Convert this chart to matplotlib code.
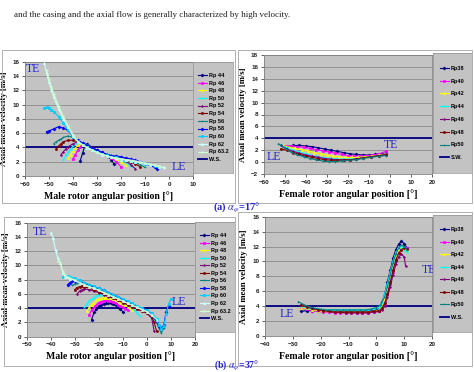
import matplotlib
matplotlib.use("Agg")
import matplotlib.pyplot as plt
from matplotlib.patches import Rectangle

plt.rcParams['mathtext.fontset'] = 'stix'

# ---------------- DATA ----------------
# (a) alpha = 17 deg, male rotor
male17_labels = ["Rp 44", "Rp 46", "Rp 48", "Rp 50", "Rp 52", "Rp 54", "Rp 56",
                 "Rp 58", "Rp 60", "Rp 62", "Rp 63.2"]
male17_x = [
    [-37, -36, -35, -34, -32, -30, -28, -26, -24, -23],
    [-40, -39, -38, -37, -36, -34, -32, -30, -28, -26, -24, -22, -20],
    [-42, -41, -40, -39, -38, -36, -34, -32, -30, -28, -26, -24, -22, -20, -18],
    [-44, -43, -42, -41, -40, -38, -36, -34, -32, -30, -28, -26, -24, -22, -20, -18, -16],
    [-45, -44, -43, -42, -40, -38, -36, -34, -32, -30, -28, -26, -24, -22, -20, -18, -16, -14],
    [-47, -46, -45, -44, -42, -40, -38, -36, -34, -32, -30, -28, -26, -24, -22, -20, -18, -16, -14, -12],
    [-48, -47, -46, -45, -44, -42, -40, -38, -36, -34, -32, -30, -28, -26, -24, -22, -20, -18, -16, -14, -12, -10],
    [-51, -50, -48, -46, -44, -42, -40, -38, -36, -34, -32, -30, -28, -26, -24, -22, -20, -18, -16, -14, -12, -10, -8, -6, -5],
    [-52, -51, -50, -49, -48, -46, -44, -42, -40, -38, -36, -34, -32, -30, -28, -26, -24, -22, -20, -18, -16, -14, -12, -10, -8, -6, -4],
    [-52, -51, -50, -49, -48, -46, -44, -42, -40, -38, -36, -34, -32, -30, -28, -26, -24, -22, -20, -18, -16, -14, -12, -10, -8, -6, -4, -2],
    [-51, -50, -49, -48, -46, -44, -42, -40, -38, -36, -34, -32, -30, -28, -26, -24, -22, -20, -18, -16, -14, -12, -10, -8, -6, -4, -2],
]
male17_y = [
    [2.1, 3.2, 4.3, 4.5, 4.0, 3.6, 3.2, 2.8, 2.3, 1.7],
    [2.4, 3.0, 3.6, 4.1, 4.4, 4.2, 3.8, 3.5, 3.2, 2.9, 2.5, 2.0, 1.3],
    [2.5, 3.0, 3.5, 3.9, 4.3, 4.5, 4.2, 3.9, 3.5, 3.2, 2.9, 2.7, 2.4, 2.0, 1.5],
    [2.3, 2.9, 3.4, 3.8, 4.2, 4.6, 4.6, 4.3, 3.9, 3.6, 3.3, 3.0, 2.8, 2.6, 2.3, 1.9, 1.4],
    [3.0, 3.4, 3.8, 4.1, 4.5, 4.8, 4.6, 4.3, 4.0, 3.6, 3.3, 3.0, 2.8, 2.6, 2.4, 2.1, 1.6, 1.0],
    [3.8, 4.2, 4.5, 4.8, 5.0, 5.0, 4.8, 4.5, 4.2, 3.9, 3.6, 3.3, 3.0, 2.8, 2.6, 2.4, 2.2, 2.0, 1.7, 1.3],
    [4.5, 4.8, 5.0, 5.2, 5.4, 5.6, 5.4, 5.0, 4.6, 4.3, 3.9, 3.6, 3.3, 3.1, 2.9, 2.7, 2.5, 2.3, 2.1, 1.9, 1.6, 1.2],
    [6.2, 6.3, 6.6, 6.9, 6.7, 6.4, 5.5, 5.0, 4.6, 4.2, 3.9, 3.6, 3.3, 3.0, 2.8, 2.8, 2.7, 2.5, 2.4, 2.2, 2.0, 1.8, 1.5, 1.2, 1.0],
    [9.5, 9.6, 9.5, 9.3, 9.0, 8.3, 7.4, 6.4, 5.5, 4.8, 4.4, 4.0, 3.7, 3.4, 3.1, 2.9, 2.7, 2.6, 2.4, 2.2, 2.1, 2.0, 1.9, 1.7, 1.6, 1.4, 1.2],
    [15.8, 14.4, 13.2, 12.0, 11.0, 9.4, 8.0, 6.8, 5.6, 4.8, 4.3, 3.9, 3.6, 3.3, 3.0, 2.8, 2.6, 2.5, 2.3, 2.2, 2.1, 2.0, 1.9, 1.8, 1.6, 1.5, 1.3, 1.2],
    [14.8, 13.6, 12.5, 11.5, 9.8, 8.3, 7.0, 5.8, 4.9, 4.4, 4.0, 3.6, 3.3, 3.1, 2.8, 2.6, 2.5, 2.4, 2.3, 2.2, 2.1, 1.9, 1.8, 1.7, 1.5, 1.4, 1.1],
]

# (a) alpha = 17 deg, female rotor
female17_labels = ["Rp38", "Rp40", "Rp42", "Rp44", "Rp46", "Rp48", "Rp50"]
female17_x = [
    [-49, -46, -43, -40, -37, -34, -31, -28, -25, -22, -19, -16, -13, -10, -7, -4, -2],
    [-50, -47, -44, -41, -38, -35, -32, -29, -26, -23, -20, -17, -14, -11, -8, -5, -2],
    [-51, -48, -45, -42, -39, -36, -33, -30, -27, -24, -21, -18, -15, -12, -9, -5, -2],
    [-52, -49, -46, -43, -40, -37, -34, -31, -28, -25, -22, -19, -16, -13, -9, -5, -2],
    [-52, -49, -46, -43, -40, -37, -34, -31, -28, -25, -22, -19, -16, -13, -9, -5, -2],
    [-52, -49, -46, -43, -40, -37, -34, -31, -28, -25, -22, -19, -16, -13, -9, -5, -2],
    [-53, -50, -47, -44, -41, -38, -35, -32, -29, -26, -23, -20, -16, -13, -9, -5, -2],
]
female17_y = [
    [2.6, 2.8, 2.8, 2.7, 2.6, 2.4, 2.2, 2.0, 1.8, 1.6, 1.4, 1.3, 1.2, 1.2, 1.3, 1.4, 1.5],
    [2.7, 2.7, 2.6, 2.5, 2.3, 2.1, 1.9, 1.7, 1.5, 1.3, 1.1, 1.0, 1.0, 1.1, 1.2, 1.4, 1.8],
    [2.8, 2.5, 2.3, 2.1, 1.9, 1.6, 1.4, 1.2, 1.0, 0.9, 0.8, 0.8, 0.8, 0.9, 1.0, 1.2, 1.4],
    [2.9, 2.4, 2.0, 1.7, 1.4, 1.1, 0.9, 0.7, 0.6, 0.5, 0.5, 0.5, 0.6, 0.7, 0.9, 1.1, 1.3],
    [2.8, 2.2, 1.8, 1.5, 1.2, 1.0, 0.8, 0.6, 0.5, 0.4, 0.4, 0.4, 0.5, 0.7, 0.9, 1.1, 1.3],
    [2.2, 2.0, 1.6, 1.3, 1.0, 0.8, 0.6, 0.4, 0.3, 0.3, 0.3, 0.4, 0.5, 0.7, 0.9, 1.1, 1.2],
    [3.1, 2.3, 1.7, 1.2, 0.9, 0.6, 0.4, 0.2, 0.1, 0.1, 0.2, 0.3, 0.4, 0.6, 0.8, 1.0, 1.1],
]

# (b) alpha = 37 deg, male rotor
male37_labels = male17_labels
male37_x = [
    [-23, -22, -21, -20, -19, -18, -17, -16, -15, -14, -13, -12, -11, -10],
    [-24, -23, -22, -21, -20, -19, -18, -17, -16, -15, -14, -13, -12, -11, -10, -9, -8],
    [-25, -24, -23, -22, -21, -20, -19, -18, -17, -16, -15, -14, -13, -12, -11, -10, -9, -8, -7, -6],
    [-26, -25, -24, -23, -22, -21, -20, -19, -18, -17, -16, -15, -14, -13, -12, -11, -10, -9, -8, -7, -6, -5, -4, -3],
    [-29, -28, -27, -26, -24, -22, -20, -18, -16, -14, -12, -10, -8, -6, -4, -2, 0, 2, 3],
    [-30, -29, -28, -27, -26, -24, -22, -20, -18, -16, -14, -12, -10, -8, -6, -4, -2, 0, 2, 3, 4],
    [-31, -30, -29, -28, -26, -24, -22, -20, -18, -16, -14, -12, -10, -8, -6, -4, -2, 0, 2, 4, 5, 6, 7],
    [-33, -32, -31, -30, -28, -26, -24, -22, -20, -18, -16, -14, -12, -10, -8, -6, -4, -2, 0, 2, 4, 5, 6, 7, 8, 9],
    [-35, -34, -33, -32, -30, -28, -26, -24, -22, -20, -18, -16, -14, -12, -10, -8, -6, -4, -2, 0, 2, 4, 5, 6, 7, 8, 9, 10],
    [-40, -39, -38, -37, -36, -35, -34, -32, -30, -28, -26, -24, -22, -20, -18, -16, -14, -12, -10, -8, -6, -4, -2, 0, 2, 4],
    [-37, -36, -35, -34, -33, -32, -30, -28, -26, -24, -22, -20, -18, -16, -14, -12, -10, -8, -6, -4, -2, 0, 2],
]
male37_y = [
    [2.4, 3.4, 3.9, 4.3, 4.5, 4.6, 4.7, 4.7, 4.7, 4.6, 4.4, 4.2, 3.9, 3.5],
    [3.1, 3.7, 4.2, 4.5, 4.8, 4.9, 5.0, 5.1, 5.0, 5.0, 4.9, 4.7, 4.5, 4.3, 4.1, 3.9, 3.7],
    [3.6, 4.1, 4.5, 4.8, 5.1, 5.3, 5.4, 5.5, 5.5, 5.5, 5.4, 5.3, 5.2, 5.0, 4.8, 4.6, 4.4, 4.2, 4.0, 3.8],
    [4.1, 4.6, 5.0, 5.3, 5.5, 5.7, 5.8, 5.9, 5.9, 5.9, 5.8, 5.7, 5.6, 5.4, 5.3, 5.1, 4.9, 4.7, 4.5, 4.3, 4.0, 3.7, 3.3, 2.9],
    [6.0, 6.4, 6.6, 6.7, 6.6, 6.4, 6.2, 5.9, 5.6, 5.4, 5.1, 4.8, 4.5, 4.2, 3.9, 3.6, 3.3, 2.6, 0.8],
    [6.6, 6.9, 7.0, 7.1, 7.0, 6.8, 6.6, 6.3, 6.0, 5.7, 5.4, 5.1, 4.8, 4.5, 4.2, 3.9, 3.6, 3.3, 2.8, 2.0, 0.8],
    [7.2, 7.4, 7.5, 7.6, 7.4, 7.2, 6.9, 6.6, 6.3, 6.0, 5.7, 5.4, 5.1, 4.8, 4.5, 4.2, 3.8, 3.5, 3.0, 2.0, 1.2, 0.5, 1.2],
    [7.3, 7.6, 7.8, 7.8, 7.7, 7.5, 7.3, 7.0, 6.8, 6.5, 6.2, 5.9, 5.6, 5.2, 4.9, 4.6, 4.2, 3.9, 3.6, 3.2, 2.2, 1.5, 1.2, 1.6, 3.5, 4.3],
    [8.4, 8.5, 8.5, 8.4, 8.2, 7.9, 7.6, 7.3, 7.1, 6.8, 6.5, 6.2, 5.9, 5.6, 5.3, 5.0, 4.7, 4.3, 4.0, 3.7, 3.3, 2.5, 1.6, 1.1, 1.5, 3.2, 4.6, 5.3],
    [14.6, 13.8, 12.2, 11.0, 10.4, 9.0, 8.4, 8.1, 7.9, 7.6, 7.3, 7.0, 6.8, 6.5, 6.2, 5.9, 5.6, 5.3, 5.0, 4.7, 4.4, 4.1, 3.8, 3.5, 3.0, 2.4],
    [10.6, 10.4, 9.2, 8.6, 8.4, 8.2, 7.9, 7.6, 7.3, 7.0, 6.8, 6.5, 6.2, 5.9, 5.6, 5.3, 5.0, 4.7, 4.4, 4.1, 3.8, 3.5, 3.0],
]

# (b) alpha = 37 deg, female rotor
female37_labels = female17_labels
female37_x = [
    [-27, -25, -23, -21, -19, -17, -15, -13, -11, -9, -7, -5, -3, -1, 1, 2, 3, 4, 5, 6, 7, 8, 9, 10, 11],
    [-27, -25, -23, -21, -19, -17, -15, -13, -11, -9, -7, -5, -3, -1, 1, 2, 3, 4, 5, 6, 7, 8, 9, 10, 11],
    [-27, -25, -23, -21, -19, -17, -15, -13, -11, -9, -7, -5, -3, -1, 1, 2, 3, 4, 5, 6, 7, 8, 9, 10, 11],
    [-27, -25, -23, -21, -19, -17, -15, -13, -11, -9, -7, -5, -3, -1, 1, 2, 3, 4, 5, 6, 7, 8, 9, 10, 11],
    [-27, -25, -23, -21, -19, -17, -15, -13, -11, -9, -7, -5, -3, -1, 1, 2, 3, 4, 5, 6, 7, 8, 9, 10, 10.5],
    [-27, -25, -23, -21, -19, -17, -15, -13, -11, -9, -7, -5, -3, -1, 1, 2, 3, 4, 5, 6, 7, 8, 9, 10, 11],
    [-28, -26, -24, -22, -20, -18, -16, -14, -12, -10, -8, -6, -4, -2, 0, 1.5, 3, 4, 5, 6, 7, 8, 9, 10, 11],
]
female37_y = [
    [3.3, 3.4, 3.4, 3.4, 3.4, 3.3, 3.3, 3.3, 3.3, 3.3, 3.3, 3.3, 3.3, 3.4, 3.6, 4.5, 5.6, 7.3, 8.8, 10.4, 11.6, 12.3, 12.7, 12.4, 11.8],
    [3.7, 3.6, 3.4, 3.3, 3.2, 3.2, 3.1, 3.1, 3.1, 3.1, 3.1, 3.1, 3.1, 3.2, 3.3, 3.6, 4.3, 5.6, 7.0, 8.6, 10.1, 11.2, 11.8, 12.0, 11.8],
    [3.8, 3.7, 3.5, 3.4, 3.3, 3.3, 3.3, 3.2, 3.2, 3.2, 3.2, 3.2, 3.2, 3.3, 3.5, 4.0, 5.0, 6.5, 8.0, 9.6, 10.8, 11.5, 11.9, 11.7, 11.6],
    [4.0, 3.8, 3.6, 3.6, 3.5, 3.5, 3.5, 3.5, 3.5, 3.5, 3.5, 3.5, 3.5, 3.6, 3.8, 4.4, 5.6, 7.0, 8.6, 10.0, 11.2, 11.8, 12.1, 11.5, 11.3],
    [4.2, 3.9, 3.7, 3.5, 3.4, 3.3, 3.2, 3.2, 3.1, 3.1, 3.1, 3.1, 3.1, 3.2, 3.3, 3.5, 4.0, 5.2, 6.6, 8.2, 9.6, 10.6, 11.0, 10.6, 9.4],
    [4.1, 3.9, 3.7, 3.5, 3.4, 3.3, 3.2, 3.2, 3.2, 3.2, 3.2, 3.2, 3.2, 3.3, 3.4, 3.7, 4.4, 5.6, 7.2, 8.8, 10.2, 11.1, 11.6, 11.8, 11.7],
    [4.6, 4.2, 3.9, 3.7, 3.6, 3.5, 3.5, 3.5, 3.5, 3.5, 3.5, 3.5, 3.5, 3.6, 3.8, 4.2, 5.2, 6.6, 8.2, 9.8, 11.0, 11.8, 12.2, 12.0, 11.6],
]

ws_level = 4.0

# ---------------- STYLE ----------------
excel_colors = ['#000080', '#FF00FF', '#FFFF00', '#00FFFF', '#800080', '#800000',
                '#008080', '#0000FF', '#00CCFF', '#CCFFFF', '#CCFFCC']
excel_markers = ['D', 's', '^', 'x', '*', 'o', '+', 'D', 's', '^', 'x']
GRAY = '#c3c3c3'
BLUE_TXT = '#2424c8'
SERIF = ['Liberation Serif', 'DejaVu Serif']
SANS = ['Liberation Sans', 'DejaVu Sans']

W, H = 474, 372
fig = plt.figure(figsize=(W / 100, H / 100), dpi=100)


def px_rect(x0, y0, x1, y1):
    return [x0 / W, 1 - y1 / H, (x1 - x0) / W, (y1 - y0) / H]


def panel(rect, leg_rect, xs, ys, labels, xlim, ylim, xt, yt, xlabel,
          ws_label, leg_spacing, te, le):
    ax = fig.add_axes(px_rect(*rect))
    ax.set_facecolor(GRAY)
    handles = []
    for i, (x, y, lab) in enumerate(zip(xs, ys, labels)):
        h, = ax.plot(x, y, color=excel_colors[i], lw=0.8, marker=excel_markers[i],
                     ms=1.5, mew=0.5, label=lab, zorder=3)
        handles.append(h)
    hw, = ax.plot(list(xlim), [ws_level, ws_level], color='#000080', lw=1.3,
                  label=ws_label, zorder=2)
    handles.append(hw)
    ax.set_xlim(*xlim)
    ax.set_ylim(*ylim)
    ax.set_xticks(xt)
    ax.set_yticks(yt)
    ax.yaxis.grid(True, color='#8a8a8a', lw=0.6)
    ax.set_axisbelow(True)
    for s in ax.spines.values():
        s.set_color('#808080')
        s.set_linewidth(0.6)
    ax.tick_params(labelsize=4.5, length=2, width=0.5, pad=2, colors='#202020')
    for lab in ax.get_xticklabels() + ax.get_yticklabels():
        lab.set_fontweight('bold')
        lab.set_family(SANS)
    ax.set_xlabel(xlabel, fontsize=7, fontweight='bold', family=SERIF, labelpad=3)
    ax.set_ylabel("Axial mean velocity [m/s]", fontsize=6.3, fontweight='bold',
                  family=SERIF, labelpad=3)
    ax.text(te[0], te[1], "TE", color=BLUE_TXT, fontsize=8.5, family=SERIF,
            va='center', ha='left', zorder=5)
    ax.text(le[0], le[1], "LE", color=BLUE_TXT, fontsize=8.5, family=SERIF,
            va='center', ha='left', zorder=5)

    lax = fig.add_axes(px_rect(*leg_rect))
    lax.set_facecolor(GRAY)
    lax.set_xticks([])
    lax.set_yticks([])
    for s in lax.spines.values():
        s.set_color('#909090')
        s.set_linewidth(0.5)
    lax.legend(handles=handles, labels=[h.get_label() for h in handles], loc='center',
               frameon=False, prop={'family': SANS, 'weight': 'bold', 'size': 4.0},
               labelspacing=leg_spacing, handlelength=1.6, handletextpad=0.4,
               borderpad=0.2, markerscale=1.0)
    return ax


panel((25, 61.7, 193, 176), (193, 62, 233, 173), male17_x, male17_y, male17_labels,
      (-60, 10), (0, 16), range(-60, 11, 10), range(0, 17, 2),
      "Male rotor angular position [°]", "W.S.", 0.48, (-59.5, 15.0), (1.0, 1.2))
panel((263.7, 55, 432, 174), (433, 53, 472, 173), female17_x, female17_y, female17_labels,
      (-60, 20), (-2, 18), range(-60, 21, 10), range(-2, 19, 2),
      "Female rotor angular position [°]", "S.W.", 1.4, (-3.0, 2.8), (-58.5, 0.8))
panel((26.7, 222.7, 195, 336.7), (195, 222, 235, 332), male37_x, male37_y, male37_labels,
      (-50, 20), (0, 16), range(-50, 21, 10), range(0, 17, 2),
      "Male rotor angular position [°]", "W.S.", 0.46, (-47.5, 14.7), (10.2, 4.9))
panel((265, 216.7, 432, 336), (433, 215, 472, 332), female37_x, female37_y, female37_labels,
      (-40, 20), (0, 16), range(-40, 21, 10), range(0, 17, 2),
      "Female rotor angular position [°]", "W.S.", 1.35, (16.3, 8.9), (-34.6, 3.0))

# panel frames
for (x0, y0, x1, y1) in [(2, 50, 235, 203), (238, 50, 472, 203),
                         (4, 217, 235, 366), (238, 212, 472, 366)]:
    fig.patches.append(Rectangle((x0 / W, 1 - y1 / H), (x1 - x0) / W, (y1 - y0) / H,
                                 transform=fig.transFigure, fill=False,
                                 edgecolor='#b0b0b0', lw=0.7))

fig.text(14 / W, 1 - 15 / H,
         "and the casing and the axial flow is generally characterized by high velocity.",
         fontsize=6.5, family=SERIF, va='center', ha='left', color='#202020')
fig.text(237 / W, 1 - 207 / H, r"(a) $\alpha_{\varphi}$=17°", fontsize=7.5,
         fontweight='bold', family=SERIF, color=BLUE_TXT, ha='center', va='center')
fig.text(237 / W, 1 - 364.5 / H, r"(b) $\alpha_{\varphi}$=37°", fontsize=7.0,
         fontweight='bold', family=SERIF, color=BLUE_TXT, ha='center', va='center')

fig.savefig("out.png", dpi=100, facecolor='white')
